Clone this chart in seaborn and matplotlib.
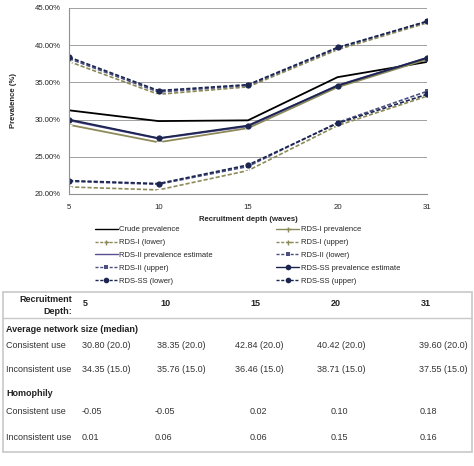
import pandas as pd
import matplotlib.pyplot as plt
import seaborn as sns
from matplotlib.lines import Line2D
from matplotlib.patches import Rectangle

waves = ['5', '10', '15', '20', '31']

crude = [31.25, 29.8, 29.9, 35.7, 37.75]
rds1 = [29.3, 26.95, 28.85, 34.35, 38.1]
rds1_lower = [20.95, 20.55, 23.15, 29.2, 33.15]
rds1_upper = [37.8, 33.4, 34.4, 39.4, 43.0]
rds2 = [29.9, 27.45, 29.1, 34.6, 38.3]
rds2_lower = [21.7, 21.3, 23.7, 29.6, 33.8]
rds2_upper = [38.2, 33.7, 34.6, 39.6, 43.2]
rdsss = [30.0, 27.5, 29.2, 34.55, 38.3]
rdsss_lower = [21.8, 21.4, 23.9, 29.5, 33.4]
rdsss_upper = [38.4, 33.9, 34.7, 39.7, 43.2]

# table values
depths = ['5', '10', '15', '20', '31']
net_consistent = ['30.80 (20.0)', '38.35 (20.0)', '42.84 (20.0)', '40.42 (20.0)', '39.60 (20.0)']
net_inconsistent = ['34.35 (15.0)', '35.76 (15.0)', '36.46 (15.0)', '38.71 (15.0)', '37.55 (15.0)']
homo_consistent = ['-0.05', '-0.05', '0.02', '0.10', '0.18']
homo_inconsistent = ['0.01', '0.06', '0.06', '0.15', '0.16']

sns.set_style('white')
plt.rcParams['font.family'] = ['Liberation Sans', 'DejaVu Sans']

olive = '#8c8a58'
purple = '#5a4e92'
navy = '#1b2550'
dashblue = '#4a5080'

series = [
    ('Crude prevalence', crude, 'black', '-', None),
    ('RDS-I prevalence', rds1, olive, '-', '+'),
    ('RDS-I (lower)', rds1_lower, olive, '--', '+'),
    ('RDS-I (upper)', rds1_upper, olive, '--', '+'),
    ('RDS-II prevalence estimate', rds2, purple, '-', None),
    ('RDS-II (lower)', rds2_lower, dashblue, '--', 's'),
    ('RDS-II (upper)', rds2_upper, dashblue, '--', 's'),
    ('RDS-SS prevalence estimate', rdsss, navy, '-', 'o'),
    ('RDS-SS (lower)', rdsss_lower, navy, '--', 'o'),
    ('RDS-SS (upper)', rdsss_upper, navy, '--', 'o'),
]

msize = {'+': 4, 's': 3.5, 'o': 4.5, None: 0}

fig = plt.figure(figsize=(4.74, 4.66), dpi=100)
ax = fig.add_axes([69/474, 1-194/466, 358/474, 186/466])

handles = {}
for name, vals, col, ls, mk in series:
    df = pd.DataFrame({'wave': waves, 'val': vals})
    kw = dict(dashes=(2.5, 1.2)) if ls == '--' else {}
    sns.lineplot(data=df, x='wave', y='val', ax=ax, color=col,
                 marker=mk, markersize=msize[mk], markeredgewidth=1 if mk == '+' else 0,
                 linewidth=1.3 if ls == '-' else 1.2, sort=False, **kw)
    handles[name] = Line2D([], [], color=col, marker=mk, markersize=msize[mk] * 0.9,
                           markeredgewidth=1 if mk == '+' else 0, linewidth=1.0,
                           linestyle='-' if ls == '-' else (0, (2.2, 1.2)))

ax.set_xlim(0, 4)
ax.set_ylim(20, 45)
ax.set_yticks([20, 25, 30, 35, 40, 45])
ax.set_yticklabels(['%.2f%%' % v for v in [20, 25, 30, 35, 40, 45]])
ax.yaxis.grid(True, color='#a0a0a0', linewidth=0.7)
ax.xaxis.grid(False)
for s in ['top', 'right']:
    ax.spines[s].set_visible(False)
for s in ['left', 'bottom']:
    ax.spines[s].set_color('#909090')
    ax.spines[s].set_linewidth(0.8)
ax.tick_params(labelsize=5.6, length=0)
ax.tick_params(axis='y', pad=6)
ax.tick_params(axis='x', pad=7)
ax.set_xlabel('Recruitment depth (waves)', fontsize=5.6, fontweight='bold', labelpad=4)
ax.set_ylabel('Prevalence (%)', fontsize=5.6, fontweight='bold', labelpad=13)

order = ['Crude prevalence', 'RDS-I (lower)', 'RDS-II prevalence estimate', 'RDS-II (upper)', 'RDS-SS (lower)',
         'RDS-I prevalence', 'RDS-I (upper)', 'RDS-II (lower)', 'RDS-SS prevalence estimate', 'RDS-SS (upper)']
fig.legend([handles[n] for n in order], order, loc='upper left', ncol=2,
           bbox_to_anchor=(95/474, 1-226/466), frameon=False, fontsize=5.5,
           borderpad=0, borderaxespad=0,
           handlelength=3.0, handletextpad=0.2, columnspacing=8.3, labelspacing=0.72)

# table
tax = fig.add_axes([0, 0, 1, 1])
tax.set_xlim(0, 474)
tax.set_ylim(466, 0)
tax.axis('off')
tax.add_patch(Rectangle((3, 292), 469, 160, fill=False, edgecolor='#c8c8c8', linewidth=1.2))
tax.plot([3, 472], [318, 318], color='#c8c8c8', linewidth=1.0)

fs = 6.5
tax.text(72, 299, 'Recruitment', ha='right', va='center', fontsize=fs, fontweight='bold', color='#222222')
tax.text(72, 311, 'Depth:', ha='right', va='center', fontsize=fs, fontweight='bold', color='#222222')
col_x = [83, 160, 250, 331, 421]
for x, d in zip(col_x, depths):
    tax.text(x, 304, d, ha='left', va='center', fontsize=fs, fontweight='bold', color='#222222')

tax.text(6, 329, 'Average network size (median)', ha='left', va='center', fontsize=fs, fontweight='bold', color='#222222')
tax.text(6, 394, 'Homophily', ha='left', va='center', fontsize=fs, fontweight='bold', color='#222222')

row_labels = [('Consistent use', 345), ('Inconsistent use', 369), ('Consistent use', 412), ('Inconsistent use', 437)]
for lab, y in row_labels:
    tax.text(6, y, lab, ha='left', va='center', fontsize=fs, color='#333333')

net_x = [82, 157, 235, 317, 419]
for x, v in zip(net_x, net_consistent):
    tax.text(x, 345, v, ha='left', va='center', fontsize=fs, color='#333333')
for x, v in zip(net_x, net_inconsistent):
    tax.text(x, 369, v, ha='left', va='center', fontsize=fs, color='#333333')

homo_x = [82, 155, 250, 331, 420]
for x, v in zip(homo_x, homo_consistent):
    tax.text(x, 412, v, ha='left', va='center', fontsize=fs, color='#333333')
for x, v in zip(homo_x, homo_inconsistent):
    tax.text(x, 437, v, ha='left', va='center', fontsize=fs, color='#333333')

fig.savefig('out.png', dpi=100)
